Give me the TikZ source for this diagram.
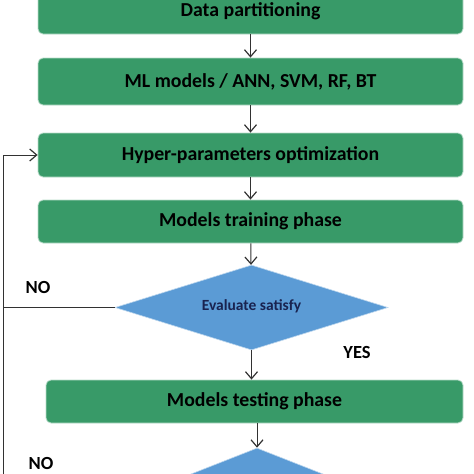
\documentclass[tikz,border=0pt]{standalone}
\usepackage{fontspec}
\setmainfont{Carlito}
\usetikzlibrary{shapes.geometric,arrows.meta}
\definecolor{boxgreen}{RGB}{56,154,104}
\definecolor{diablue}{RGB}{91,155,213}
\definecolor{linegray}{RGB}{50,50,50}
\definecolor{navytext}{RGB}{25,35,80}
\tikzset{
  greenbox/.style={rectangle, rounded corners=5pt, fill=boxgreen, draw=boxgreen!35!white,
    line width=0.8pt, inner sep=0pt, font=\bfseries\fontsize{19.8}{22}\selectfont},
  decision/.style={diamond, shape aspect=3.2, fill=diablue, draw=diablue!40!white, line width=0.6pt, inner sep=0pt,
    font=\bfseries\fontsize{15.5}{18}\selectfont, text=navytext},
  flow/.style={draw=linegray, line width=1pt, -{Straight Barb[length=7pt,width=12pt,line width=1.2pt]}},
  plain/.style={draw=linegray, line width=1pt},
  answer/.style={font=\bfseries\fontsize{18.5}{21}\selectfont, inner sep=0pt}
}
\begin{document}
\begin{tikzpicture}[x=1pt,y=-1pt]
\useasboundingbox (0,0) rectangle (474,474);
\clip (0,0) rectangle (474,474);
\node[greenbox, minimum width=425pt, minimum height=46pt] (b1) at (250.5,11) {Data partitioning};
\node[greenbox, minimum width=425pt, minimum height=47pt] (b2) at (250.5,81.5) {ML models / ANN, SVM, RF, BT};
\node[greenbox, minimum width=425pt, minimum height=44pt] (b3) at (250.5,155) {Hyper-parameters optimization};
\node[greenbox, minimum width=425pt, minimum height=43pt] (b4) at (250.5,221.5) {Models training phase};
\node[decision, minimum width=273pt, minimum height=85pt] (d1) at (251.5,307.5) {\raisebox{4pt}{Evaluate satisfy}};
\node[greenbox, minimum width=417pt, minimum height=43pt] (b5) at (254.5,401.5) {Models testing phase};
\node[decision, shape aspect=2.5, minimum width=216pt, minimum height=85pt] (d2) at (257,490.5) {};
\node[answer] (no1) at (38,287) {NO};
\node[answer] (yes1) at (357,352) {YES};
\node[answer] (no2) at (41,463) {NO};
\coordinate (lb) at (3,480);
\draw[flow] (b1) -- (b2);
\draw[flow] (b2) -- (b3);
\draw[flow] (b3) -- (b4);
\draw[flow] (b4) -- (d1);
\draw[flow] (d1.south) -- (d1.south |- b5.north);
\draw[flow] (b5.south -| d2.north) -- (d2.north);
\draw[plain] (d1.west) -- (d1.west -| lb);
\draw[flow] (lb) |- (b3.west);
\end{tikzpicture}
\end{document}
